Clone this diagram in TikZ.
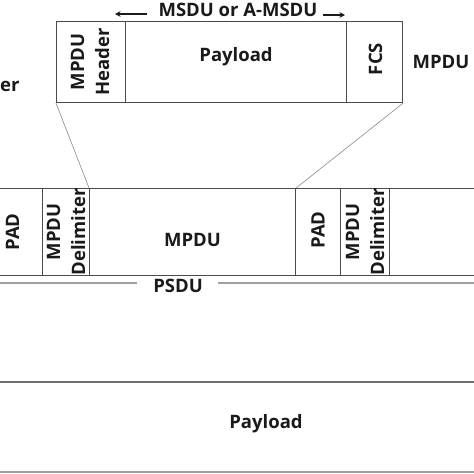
\documentclass[tikz,border=0pt]{standalone}
\usepackage{fontspec}
\setmainfont{Open Sans}
\usetikzlibrary{arrows.meta}
\definecolor{txt}{HTML}{1A1A1A}
\definecolor{ln}{HTML}{4A4A4A}
\definecolor{thin}{HTML}{8A8A8A}
\definecolor{light}{HTML}{A0A0A0}
\begin{document}
\begin{tikzpicture}[x=1pt,y=-1pt,
  font=\bfseries\fontsize{18.5}{22}\selectfont, text=txt,
  cell/.style={draw=ln, line width=1.1pt, inner sep=0pt, anchor=north west},
  lab/.style={inner sep=0pt, align=center},
  rot/.style={inner sep=0pt, align=center, rotate=90, font=\bfseries\fontsize{18.5}{25}\selectfont},
  conn/.style={draw=thin, line width=0.6pt},
  arr/.style={draw=txt, line width=1.1pt, -{Stealth[length=5.5pt,width=5.5pt]}}]
\useasboundingbox (0,0) rectangle (474,474);
\fill[white] (0,0) rectangle (474,474);

% top MPDU box
\node[cell, minimum width=69pt, minimum height=81pt] (hdr) at (56,21) {};
\node[cell, minimum width=221pt, minimum height=81pt] (pay) at (125,21) {};
\node[cell, minimum width=56pt, minimum height=81pt] (fcs) at (346,21) {};
\node[rot] at ([xshift=-1pt]hdr.center) {MPDU\\Header};
\node[lab] at ([yshift=5pt]pay.center) {Payload};
\node[rot] at ([xshift=1pt,yshift=3pt]fcs.center) {FCS};
\node[lab] (mpdulab) at (441,62) {MPDU};
\node[lab, anchor=west] (erlab) at (0,86) {er};

% MSDU label
\node[lab] (msdu) at (238,10) {MSDU or A-MSDU};
\coordinate (la0) at (147,14);
\coordinate (la) at (115,14);
\coordinate (ra0) at (323,15);
\coordinate (ra) at (345,15);
\draw[arr] (la0) -- (la);
\draw[arr] (ra0) -- (ra);

% middle row
\node[cell, minimum width=52pt, minimum height=87pt] (pad1) at (-10,188) {};
\node[cell, minimum width=47pt, minimum height=87pt] (del1) at (42,188) {};
\node[cell, minimum width=206pt, minimum height=87pt] (mpdu) at (89,188) {};
\node[cell, minimum width=45pt, minimum height=87pt] (pad2) at (295,188) {};
\node[cell, minimum width=49pt, minimum height=87pt] (del2) at (340,188) {};
\node[cell, minimum width=100pt, minimum height=87pt] (rest) at (389,188) {};
\node[rot] at ([xshift=-4pt,yshift=0pt]pad1.center) {PAD};
\node[rot] at (del1.center) {MPDU\\Delimiter};
\node[lab] at ([yshift=-8pt]mpdu.center) {MPDU};
\node[rot] at ([yshift=2pt]pad2.center) {PAD};
\node[rot] at (del2.center) {MPDU\\Delimiter};

% connectors
\draw[conn] (hdr.south west) -- (mpdu.north west);
\draw[conn] (fcs.south east) -- (mpdu.north east);

% PSDU
\node[lab] (psdu) at (178,286) {PSDU};
\coordinate (pl) at (-5,283);
\coordinate (pr) at (480,283);
\draw[draw=light, line width=1.3pt] (pl) -- ([xshift=-16pt]pl -| psdu.west);
\draw[draw=light, line width=1.3pt] ([xshift=15pt]pr -| psdu.east) -- (pr);

% bottom payload
\coordinate (b1) at (-5,382);
\coordinate (b2) at (480,382);
\coordinate (b3) at (-5,472);
\coordinate (b4) at (480,472);
\draw[draw=ln!80, line width=1.6pt] (b1) -- (b2);
\draw[draw=light, line width=2.6pt] (b3) -- (b4);
\node[lab] (payb) at (266,424) {Payload};
\end{tikzpicture}
\end{document}
